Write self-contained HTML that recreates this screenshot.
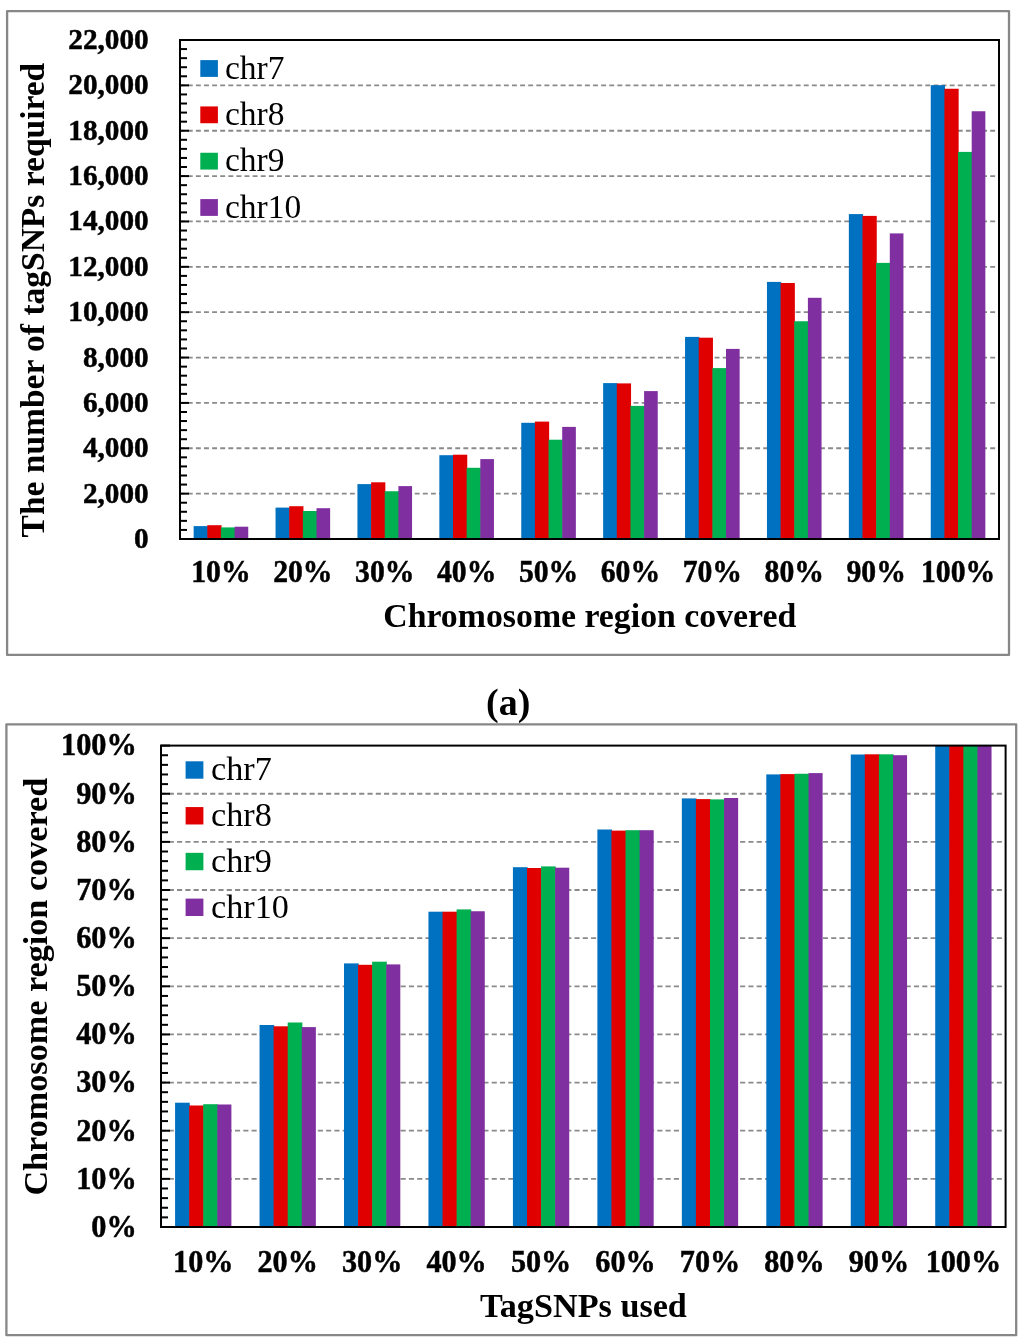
<!DOCTYPE html>
<html><head><meta charset="utf-8"><style>
html,body{margin:0;padding:0;background:#fff;width:1024px;height:1342px;overflow:hidden}
svg{display:block}
.tk{font-family:"Liberation Serif","Times New Roman",serif;font-weight:bold;fill:#000;stroke:#000;stroke-width:0.5px}
.tt{font-family:"Liberation Serif","Times New Roman",serif;font-weight:bold;fill:#000}
.lg{font-family:"Liberation Serif","Times New Roman",serif;font-weight:normal;fill:#000}
</style></head><body>
<svg width="1024" height="1342" viewBox="0 0 1024 1342">
<rect width="1024" height="1342" fill="#fff"/>
<rect x="7.1" y="11.1" width="1001.9" height="643.8" fill="none" stroke="#878787" stroke-width="2.3" stroke-linejoin="round"/>
<line x1="179.7" y1="493.64" x2="999" y2="493.64" stroke="#8a8a8a" stroke-width="1.8" stroke-dasharray="4.9 3.205"/>
<line x1="179.7" y1="448.27" x2="999" y2="448.27" stroke="#8a8a8a" stroke-width="1.8" stroke-dasharray="4.9 3.205"/>
<line x1="179.7" y1="402.91" x2="999" y2="402.91" stroke="#8a8a8a" stroke-width="1.8" stroke-dasharray="4.9 3.205"/>
<line x1="179.7" y1="357.55" x2="999" y2="357.55" stroke="#8a8a8a" stroke-width="1.8" stroke-dasharray="4.9 3.205"/>
<line x1="179.7" y1="312.18" x2="999" y2="312.18" stroke="#8a8a8a" stroke-width="1.8" stroke-dasharray="4.9 3.205"/>
<line x1="179.7" y1="266.82" x2="999" y2="266.82" stroke="#8a8a8a" stroke-width="1.8" stroke-dasharray="4.9 3.205"/>
<line x1="179.7" y1="221.45" x2="999" y2="221.45" stroke="#8a8a8a" stroke-width="1.8" stroke-dasharray="4.9 3.205"/>
<line x1="179.7" y1="176.09" x2="999" y2="176.09" stroke="#8a8a8a" stroke-width="1.8" stroke-dasharray="4.9 3.205"/>
<line x1="179.7" y1="130.73" x2="999" y2="130.73" stroke="#8a8a8a" stroke-width="1.8" stroke-dasharray="4.9 3.205"/>
<line x1="179.7" y1="85.36" x2="999" y2="85.36" stroke="#8a8a8a" stroke-width="1.8" stroke-dasharray="4.9 3.205"/>
<rect x="193.65" y="526.1" width="14.25" height="12.9" fill="#0070C0"/>
<rect x="207.3" y="525.2" width="14.25" height="13.8" fill="#E00000"/>
<rect x="220.95" y="527.4" width="14.25" height="11.6" fill="#00B050"/>
<rect x="234.6" y="526.7" width="13.65" height="12.3" fill="#7F2FA0"/>
<rect x="275.55" y="507.6" width="14.25" height="31.4" fill="#0070C0"/>
<rect x="289.2" y="506.2" width="14.25" height="32.8" fill="#E00000"/>
<rect x="302.85" y="511" width="14.25" height="28" fill="#00B050"/>
<rect x="316.5" y="508.2" width="13.65" height="30.8" fill="#7F2FA0"/>
<rect x="357.45" y="484.1" width="14.25" height="54.9" fill="#0070C0"/>
<rect x="371.1" y="482.3" width="14.25" height="56.7" fill="#E00000"/>
<rect x="384.75" y="491.25" width="14.25" height="47.75" fill="#00B050"/>
<rect x="398.4" y="486.1" width="13.65" height="52.9" fill="#7F2FA0"/>
<rect x="439.35" y="455.2" width="14.25" height="83.8" fill="#0070C0"/>
<rect x="453" y="454.7" width="14.25" height="84.3" fill="#E00000"/>
<rect x="466.65" y="467.8" width="14.25" height="71.2" fill="#00B050"/>
<rect x="480.3" y="459.1" width="13.65" height="79.9" fill="#7F2FA0"/>
<rect x="521.25" y="422.8" width="14.25" height="116.2" fill="#0070C0"/>
<rect x="534.9" y="421.6" width="14.25" height="117.4" fill="#E00000"/>
<rect x="548.55" y="439.7" width="14.25" height="99.3" fill="#00B050"/>
<rect x="562.2" y="426.9" width="13.65" height="112.1" fill="#7F2FA0"/>
<rect x="603.15" y="383.1" width="14.25" height="155.9" fill="#0070C0"/>
<rect x="616.8" y="383.4" width="14.25" height="155.6" fill="#E00000"/>
<rect x="630.45" y="405.9" width="14.25" height="133.1" fill="#00B050"/>
<rect x="644.1" y="391.1" width="13.65" height="147.9" fill="#7F2FA0"/>
<rect x="685.05" y="336.9" width="14.25" height="202.1" fill="#0070C0"/>
<rect x="698.7" y="337.7" width="14.25" height="201.3" fill="#E00000"/>
<rect x="712.35" y="368.1" width="14.25" height="170.9" fill="#00B050"/>
<rect x="726" y="348.9" width="13.65" height="190.1" fill="#7F2FA0"/>
<rect x="766.95" y="281.9" width="14.25" height="257.1" fill="#0070C0"/>
<rect x="780.6" y="283" width="14.25" height="256" fill="#E00000"/>
<rect x="794.25" y="321.25" width="14.25" height="217.75" fill="#00B050"/>
<rect x="807.9" y="297.8" width="13.65" height="241.2" fill="#7F2FA0"/>
<rect x="848.85" y="214.1" width="14.25" height="324.9" fill="#0070C0"/>
<rect x="862.5" y="215.9" width="14.25" height="323.1" fill="#E00000"/>
<rect x="876.15" y="262.9" width="14.25" height="276.1" fill="#00B050"/>
<rect x="889.8" y="233.4" width="13.65" height="305.6" fill="#7F2FA0"/>
<rect x="930.75" y="85.2" width="14.25" height="453.8" fill="#0070C0"/>
<rect x="944.4" y="88.75" width="14.25" height="450.25" fill="#E00000"/>
<rect x="958.05" y="151.9" width="14.25" height="387.1" fill="#00B050"/>
<rect x="971.7" y="111.25" width="13.65" height="427.75" fill="#7F2FA0"/>
<line x1="180" y1="539" x2="189" y2="539" stroke="#000" stroke-width="2"/>
<line x1="180" y1="529.93" x2="187" y2="529.93" stroke="#000" stroke-width="2"/>
<line x1="180" y1="520.85" x2="187" y2="520.85" stroke="#000" stroke-width="2"/>
<line x1="180" y1="511.78" x2="187" y2="511.78" stroke="#000" stroke-width="2"/>
<line x1="180" y1="502.71" x2="187" y2="502.71" stroke="#000" stroke-width="2"/>
<line x1="180" y1="493.64" x2="189" y2="493.64" stroke="#000" stroke-width="2"/>
<line x1="180" y1="484.56" x2="187" y2="484.56" stroke="#000" stroke-width="2"/>
<line x1="180" y1="475.49" x2="187" y2="475.49" stroke="#000" stroke-width="2"/>
<line x1="180" y1="466.42" x2="187" y2="466.42" stroke="#000" stroke-width="2"/>
<line x1="180" y1="457.35" x2="187" y2="457.35" stroke="#000" stroke-width="2"/>
<line x1="180" y1="448.27" x2="189" y2="448.27" stroke="#000" stroke-width="2"/>
<line x1="180" y1="439.2" x2="187" y2="439.2" stroke="#000" stroke-width="2"/>
<line x1="180" y1="430.13" x2="187" y2="430.13" stroke="#000" stroke-width="2"/>
<line x1="180" y1="421.05" x2="187" y2="421.05" stroke="#000" stroke-width="2"/>
<line x1="180" y1="411.98" x2="187" y2="411.98" stroke="#000" stroke-width="2"/>
<line x1="180" y1="402.91" x2="189" y2="402.91" stroke="#000" stroke-width="2"/>
<line x1="180" y1="393.84" x2="187" y2="393.84" stroke="#000" stroke-width="2"/>
<line x1="180" y1="384.76" x2="187" y2="384.76" stroke="#000" stroke-width="2"/>
<line x1="180" y1="375.69" x2="187" y2="375.69" stroke="#000" stroke-width="2"/>
<line x1="180" y1="366.62" x2="187" y2="366.62" stroke="#000" stroke-width="2"/>
<line x1="180" y1="357.55" x2="189" y2="357.55" stroke="#000" stroke-width="2"/>
<line x1="180" y1="348.47" x2="187" y2="348.47" stroke="#000" stroke-width="2"/>
<line x1="180" y1="339.4" x2="187" y2="339.4" stroke="#000" stroke-width="2"/>
<line x1="180" y1="330.33" x2="187" y2="330.33" stroke="#000" stroke-width="2"/>
<line x1="180" y1="321.25" x2="187" y2="321.25" stroke="#000" stroke-width="2"/>
<line x1="180" y1="312.18" x2="189" y2="312.18" stroke="#000" stroke-width="2"/>
<line x1="180" y1="303.11" x2="187" y2="303.11" stroke="#000" stroke-width="2"/>
<line x1="180" y1="294.04" x2="187" y2="294.04" stroke="#000" stroke-width="2"/>
<line x1="180" y1="284.96" x2="187" y2="284.96" stroke="#000" stroke-width="2"/>
<line x1="180" y1="275.89" x2="187" y2="275.89" stroke="#000" stroke-width="2"/>
<line x1="180" y1="266.82" x2="189" y2="266.82" stroke="#000" stroke-width="2"/>
<line x1="180" y1="257.75" x2="187" y2="257.75" stroke="#000" stroke-width="2"/>
<line x1="180" y1="248.67" x2="187" y2="248.67" stroke="#000" stroke-width="2"/>
<line x1="180" y1="239.6" x2="187" y2="239.6" stroke="#000" stroke-width="2"/>
<line x1="180" y1="230.53" x2="187" y2="230.53" stroke="#000" stroke-width="2"/>
<line x1="180" y1="221.45" x2="189" y2="221.45" stroke="#000" stroke-width="2"/>
<line x1="180" y1="212.38" x2="187" y2="212.38" stroke="#000" stroke-width="2"/>
<line x1="180" y1="203.31" x2="187" y2="203.31" stroke="#000" stroke-width="2"/>
<line x1="180" y1="194.24" x2="187" y2="194.24" stroke="#000" stroke-width="2"/>
<line x1="180" y1="185.16" x2="187" y2="185.16" stroke="#000" stroke-width="2"/>
<line x1="180" y1="176.09" x2="189" y2="176.09" stroke="#000" stroke-width="2"/>
<line x1="180" y1="167.02" x2="187" y2="167.02" stroke="#000" stroke-width="2"/>
<line x1="180" y1="157.95" x2="187" y2="157.95" stroke="#000" stroke-width="2"/>
<line x1="180" y1="148.87" x2="187" y2="148.87" stroke="#000" stroke-width="2"/>
<line x1="180" y1="139.8" x2="187" y2="139.8" stroke="#000" stroke-width="2"/>
<line x1="180" y1="130.73" x2="189" y2="130.73" stroke="#000" stroke-width="2"/>
<line x1="180" y1="121.65" x2="187" y2="121.65" stroke="#000" stroke-width="2"/>
<line x1="180" y1="112.58" x2="187" y2="112.58" stroke="#000" stroke-width="2"/>
<line x1="180" y1="103.51" x2="187" y2="103.51" stroke="#000" stroke-width="2"/>
<line x1="180" y1="94.44" x2="187" y2="94.44" stroke="#000" stroke-width="2"/>
<line x1="180" y1="85.36" x2="189" y2="85.36" stroke="#000" stroke-width="2"/>
<line x1="180" y1="76.29" x2="187" y2="76.29" stroke="#000" stroke-width="2"/>
<line x1="180" y1="67.22" x2="187" y2="67.22" stroke="#000" stroke-width="2"/>
<line x1="180" y1="58.15" x2="187" y2="58.15" stroke="#000" stroke-width="2"/>
<line x1="180" y1="49.07" x2="187" y2="49.07" stroke="#000" stroke-width="2"/>
<line x1="180" y1="40" x2="189" y2="40" stroke="#000" stroke-width="2"/>
<rect x="180" y="40" width="819" height="499" fill="none" stroke="#000" stroke-width="2"/>
<text transform="translate(148.7,548) scale(0.965,1)" text-anchor="end" class="tk" style="font-size:30.3px">0</text>
<text transform="translate(148.7,502.64) scale(0.965,1)" text-anchor="end" class="tk" style="font-size:30.3px">2,000</text>
<text transform="translate(148.7,457.27) scale(0.965,1)" text-anchor="end" class="tk" style="font-size:30.3px">4,000</text>
<text transform="translate(148.7,411.91) scale(0.965,1)" text-anchor="end" class="tk" style="font-size:30.3px">6,000</text>
<text transform="translate(148.7,366.55) scale(0.965,1)" text-anchor="end" class="tk" style="font-size:30.3px">8,000</text>
<text transform="translate(148.7,321.18) scale(0.965,1)" text-anchor="end" class="tk" style="font-size:30.3px">10,000</text>
<text transform="translate(148.7,275.82) scale(0.965,1)" text-anchor="end" class="tk" style="font-size:30.3px">12,000</text>
<text transform="translate(148.7,230.45) scale(0.965,1)" text-anchor="end" class="tk" style="font-size:30.3px">14,000</text>
<text transform="translate(148.7,185.09) scale(0.965,1)" text-anchor="end" class="tk" style="font-size:30.3px">16,000</text>
<text transform="translate(148.7,139.73) scale(0.965,1)" text-anchor="end" class="tk" style="font-size:30.3px">18,000</text>
<text transform="translate(148.7,94.36) scale(0.965,1)" text-anchor="end" class="tk" style="font-size:30.3px">20,000</text>
<text transform="translate(148.7,49) scale(0.965,1)" text-anchor="end" class="tk" style="font-size:30.3px">22,000</text>
<text transform="translate(220.95,582.3) scale(0.97,1)" text-anchor="middle" class="tk" style="font-size:30.6px">10%</text>
<text transform="translate(302.85,582.3) scale(0.97,1)" text-anchor="middle" class="tk" style="font-size:30.6px">20%</text>
<text transform="translate(384.75,582.3) scale(0.97,1)" text-anchor="middle" class="tk" style="font-size:30.6px">30%</text>
<text transform="translate(466.65,582.3) scale(0.97,1)" text-anchor="middle" class="tk" style="font-size:30.6px">40%</text>
<text transform="translate(548.55,582.3) scale(0.97,1)" text-anchor="middle" class="tk" style="font-size:30.6px">50%</text>
<text transform="translate(630.45,582.3) scale(0.97,1)" text-anchor="middle" class="tk" style="font-size:30.6px">60%</text>
<text transform="translate(712.35,582.3) scale(0.97,1)" text-anchor="middle" class="tk" style="font-size:30.6px">70%</text>
<text transform="translate(794.25,582.3) scale(0.97,1)" text-anchor="middle" class="tk" style="font-size:30.6px">80%</text>
<text transform="translate(876.15,582.3) scale(0.97,1)" text-anchor="middle" class="tk" style="font-size:30.6px">90%</text>
<text transform="translate(958.05,582.3) scale(0.97,1)" text-anchor="middle" class="tk" style="font-size:30.6px">100%</text>
<text x="589.8" y="626.5" text-anchor="middle" class="tt" style="font-size:33.8px">Chromosome region covered</text>
<text transform="translate(44,300.1) rotate(-90)" text-anchor="middle" class="tt" style="font-size:33.5px">The number of tagSNPs required</text>
<rect x="200.3" y="60.1" width="17.6" height="16.8" fill="#0070C0"/>
<text x="225" y="78.6" class="lg" style="font-size:33.5px">chr7</text>
<rect x="200.3" y="106.43" width="17.6" height="16.8" fill="#E00000"/>
<text x="225" y="124.93" class="lg" style="font-size:33.5px">chr8</text>
<rect x="200.3" y="152.76" width="17.6" height="16.8" fill="#00B050"/>
<text x="225" y="171.26" class="lg" style="font-size:33.5px">chr9</text>
<rect x="200.3" y="199.09" width="17.6" height="16.8" fill="#7F2FA0"/>
<text x="225" y="217.59" class="lg" style="font-size:33.5px">chr10</text>
<text x="508.2" y="715.2" text-anchor="middle" class="tt" style="font-size:38px">(a)</text>
<rect x="6.4" y="724.3" width="1009.8" height="610.9" fill="none" stroke="#878787" stroke-width="2.3" stroke-linejoin="round"/>
<line x1="160.5" y1="1178.86" x2="1005.6" y2="1178.86" stroke="#8a8a8a" stroke-width="1.8" stroke-dasharray="5.1 3.18"/>
<line x1="160.5" y1="1130.72" x2="1005.6" y2="1130.72" stroke="#8a8a8a" stroke-width="1.8" stroke-dasharray="5.1 3.18"/>
<line x1="160.5" y1="1082.58" x2="1005.6" y2="1082.58" stroke="#8a8a8a" stroke-width="1.8" stroke-dasharray="5.1 3.18"/>
<line x1="160.5" y1="1034.44" x2="1005.6" y2="1034.44" stroke="#8a8a8a" stroke-width="1.8" stroke-dasharray="5.1 3.18"/>
<line x1="160.5" y1="986.3" x2="1005.6" y2="986.3" stroke="#8a8a8a" stroke-width="1.8" stroke-dasharray="5.1 3.18"/>
<line x1="160.5" y1="938.16" x2="1005.6" y2="938.16" stroke="#8a8a8a" stroke-width="1.8" stroke-dasharray="5.1 3.18"/>
<line x1="160.5" y1="890.02" x2="1005.6" y2="890.02" stroke="#8a8a8a" stroke-width="1.8" stroke-dasharray="5.1 3.18"/>
<line x1="160.5" y1="841.88" x2="1005.6" y2="841.88" stroke="#8a8a8a" stroke-width="1.8" stroke-dasharray="5.1 3.18"/>
<line x1="160.5" y1="793.74" x2="1005.6" y2="793.74" stroke="#8a8a8a" stroke-width="1.8" stroke-dasharray="5.1 3.18"/>
<rect x="175.08" y="1102.7" width="14.68" height="124.3" fill="#0070C0"/>
<rect x="189.15" y="1105.5" width="14.68" height="121.5" fill="#E00000"/>
<rect x="203.23" y="1104.2" width="14.68" height="122.8" fill="#00B050"/>
<rect x="217.31" y="1104.5" width="14.08" height="122.5" fill="#7F2FA0"/>
<rect x="259.54" y="1025" width="14.68" height="202" fill="#0070C0"/>
<rect x="273.61" y="1026.3" width="14.68" height="200.7" fill="#E00000"/>
<rect x="287.69" y="1022.5" width="14.68" height="204.5" fill="#00B050"/>
<rect x="301.77" y="1027.1" width="14.08" height="199.9" fill="#7F2FA0"/>
<rect x="344" y="963.4" width="14.68" height="263.6" fill="#0070C0"/>
<rect x="358.07" y="964.8" width="14.68" height="262.2" fill="#E00000"/>
<rect x="372.15" y="961.7" width="14.68" height="265.3" fill="#00B050"/>
<rect x="386.23" y="964.4" width="14.08" height="262.6" fill="#7F2FA0"/>
<rect x="428.46" y="911.7" width="14.68" height="315.3" fill="#0070C0"/>
<rect x="442.53" y="911.7" width="14.68" height="315.3" fill="#E00000"/>
<rect x="456.61" y="909.4" width="14.68" height="317.6" fill="#00B050"/>
<rect x="470.69" y="911.25" width="14.08" height="315.75" fill="#7F2FA0"/>
<rect x="512.92" y="867.2" width="14.68" height="359.8" fill="#0070C0"/>
<rect x="526.99" y="868" width="14.68" height="359" fill="#E00000"/>
<rect x="541.07" y="866.4" width="14.68" height="360.6" fill="#00B050"/>
<rect x="555.15" y="867.7" width="14.08" height="359.3" fill="#7F2FA0"/>
<rect x="597.38" y="829.5" width="14.68" height="397.5" fill="#0070C0"/>
<rect x="611.45" y="830.6" width="14.68" height="396.4" fill="#E00000"/>
<rect x="625.53" y="830.2" width="14.68" height="396.8" fill="#00B050"/>
<rect x="639.61" y="830.2" width="14.08" height="396.8" fill="#7F2FA0"/>
<rect x="681.84" y="798.4" width="14.68" height="428.6" fill="#0070C0"/>
<rect x="695.91" y="799.1" width="14.68" height="427.9" fill="#E00000"/>
<rect x="709.99" y="799.4" width="14.68" height="427.6" fill="#00B050"/>
<rect x="724.07" y="798" width="14.08" height="429" fill="#7F2FA0"/>
<rect x="766.3" y="774.4" width="14.68" height="452.6" fill="#0070C0"/>
<rect x="780.37" y="774.1" width="14.68" height="452.9" fill="#E00000"/>
<rect x="794.45" y="773.75" width="14.68" height="453.25" fill="#00B050"/>
<rect x="808.53" y="773.1" width="14.08" height="453.9" fill="#7F2FA0"/>
<rect x="850.76" y="754.5" width="14.68" height="472.5" fill="#0070C0"/>
<rect x="864.83" y="754.3" width="14.68" height="472.7" fill="#E00000"/>
<rect x="878.91" y="754.3" width="14.68" height="472.7" fill="#00B050"/>
<rect x="892.99" y="755.2" width="14.08" height="471.8" fill="#7F2FA0"/>
<rect x="935.22" y="745.6" width="14.68" height="481.4" fill="#0070C0"/>
<rect x="949.29" y="745.6" width="14.68" height="481.4" fill="#E00000"/>
<rect x="963.37" y="745.6" width="14.68" height="481.4" fill="#00B050"/>
<rect x="977.45" y="745.6" width="14.08" height="481.4" fill="#7F2FA0"/>
<line x1="161" y1="1227" x2="170" y2="1227" stroke="#000" stroke-width="2"/>
<line x1="161" y1="1217.37" x2="168" y2="1217.37" stroke="#000" stroke-width="2"/>
<line x1="161" y1="1207.74" x2="168" y2="1207.74" stroke="#000" stroke-width="2"/>
<line x1="161" y1="1198.12" x2="168" y2="1198.12" stroke="#000" stroke-width="2"/>
<line x1="161" y1="1188.49" x2="168" y2="1188.49" stroke="#000" stroke-width="2"/>
<line x1="161" y1="1178.86" x2="170" y2="1178.86" stroke="#000" stroke-width="2"/>
<line x1="161" y1="1169.23" x2="168" y2="1169.23" stroke="#000" stroke-width="2"/>
<line x1="161" y1="1159.6" x2="168" y2="1159.6" stroke="#000" stroke-width="2"/>
<line x1="161" y1="1149.98" x2="168" y2="1149.98" stroke="#000" stroke-width="2"/>
<line x1="161" y1="1140.35" x2="168" y2="1140.35" stroke="#000" stroke-width="2"/>
<line x1="161" y1="1130.72" x2="170" y2="1130.72" stroke="#000" stroke-width="2"/>
<line x1="161" y1="1121.09" x2="168" y2="1121.09" stroke="#000" stroke-width="2"/>
<line x1="161" y1="1111.46" x2="168" y2="1111.46" stroke="#000" stroke-width="2"/>
<line x1="161" y1="1101.84" x2="168" y2="1101.84" stroke="#000" stroke-width="2"/>
<line x1="161" y1="1092.21" x2="168" y2="1092.21" stroke="#000" stroke-width="2"/>
<line x1="161" y1="1082.58" x2="170" y2="1082.58" stroke="#000" stroke-width="2"/>
<line x1="161" y1="1072.95" x2="168" y2="1072.95" stroke="#000" stroke-width="2"/>
<line x1="161" y1="1063.32" x2="168" y2="1063.32" stroke="#000" stroke-width="2"/>
<line x1="161" y1="1053.7" x2="168" y2="1053.7" stroke="#000" stroke-width="2"/>
<line x1="161" y1="1044.07" x2="168" y2="1044.07" stroke="#000" stroke-width="2"/>
<line x1="161" y1="1034.44" x2="170" y2="1034.44" stroke="#000" stroke-width="2"/>
<line x1="161" y1="1024.81" x2="168" y2="1024.81" stroke="#000" stroke-width="2"/>
<line x1="161" y1="1015.18" x2="168" y2="1015.18" stroke="#000" stroke-width="2"/>
<line x1="161" y1="1005.56" x2="168" y2="1005.56" stroke="#000" stroke-width="2"/>
<line x1="161" y1="995.93" x2="168" y2="995.93" stroke="#000" stroke-width="2"/>
<line x1="161" y1="986.3" x2="170" y2="986.3" stroke="#000" stroke-width="2"/>
<line x1="161" y1="976.67" x2="168" y2="976.67" stroke="#000" stroke-width="2"/>
<line x1="161" y1="967.04" x2="168" y2="967.04" stroke="#000" stroke-width="2"/>
<line x1="161" y1="957.42" x2="168" y2="957.42" stroke="#000" stroke-width="2"/>
<line x1="161" y1="947.79" x2="168" y2="947.79" stroke="#000" stroke-width="2"/>
<line x1="161" y1="938.16" x2="170" y2="938.16" stroke="#000" stroke-width="2"/>
<line x1="161" y1="928.53" x2="168" y2="928.53" stroke="#000" stroke-width="2"/>
<line x1="161" y1="918.9" x2="168" y2="918.9" stroke="#000" stroke-width="2"/>
<line x1="161" y1="909.28" x2="168" y2="909.28" stroke="#000" stroke-width="2"/>
<line x1="161" y1="899.65" x2="168" y2="899.65" stroke="#000" stroke-width="2"/>
<line x1="161" y1="890.02" x2="170" y2="890.02" stroke="#000" stroke-width="2"/>
<line x1="161" y1="880.39" x2="168" y2="880.39" stroke="#000" stroke-width="2"/>
<line x1="161" y1="870.76" x2="168" y2="870.76" stroke="#000" stroke-width="2"/>
<line x1="161" y1="861.14" x2="168" y2="861.14" stroke="#000" stroke-width="2"/>
<line x1="161" y1="851.51" x2="168" y2="851.51" stroke="#000" stroke-width="2"/>
<line x1="161" y1="841.88" x2="170" y2="841.88" stroke="#000" stroke-width="2"/>
<line x1="161" y1="832.25" x2="168" y2="832.25" stroke="#000" stroke-width="2"/>
<line x1="161" y1="822.62" x2="168" y2="822.62" stroke="#000" stroke-width="2"/>
<line x1="161" y1="813" x2="168" y2="813" stroke="#000" stroke-width="2"/>
<line x1="161" y1="803.37" x2="168" y2="803.37" stroke="#000" stroke-width="2"/>
<line x1="161" y1="793.74" x2="170" y2="793.74" stroke="#000" stroke-width="2"/>
<line x1="161" y1="784.11" x2="168" y2="784.11" stroke="#000" stroke-width="2"/>
<line x1="161" y1="774.48" x2="168" y2="774.48" stroke="#000" stroke-width="2"/>
<line x1="161" y1="764.86" x2="168" y2="764.86" stroke="#000" stroke-width="2"/>
<line x1="161" y1="755.23" x2="168" y2="755.23" stroke="#000" stroke-width="2"/>
<line x1="161" y1="745.6" x2="170" y2="745.6" stroke="#000" stroke-width="2"/>
<rect x="161" y="745.6" width="844.6" height="481.4" fill="none" stroke="#000" stroke-width="2"/>
<text transform="translate(136.8,1236.8) scale(0.948,1)" text-anchor="end" class="tk" style="font-size:32px">0%</text>
<text transform="translate(136.8,1188.66) scale(0.948,1)" text-anchor="end" class="tk" style="font-size:32px">10%</text>
<text transform="translate(136.8,1140.52) scale(0.948,1)" text-anchor="end" class="tk" style="font-size:32px">20%</text>
<text transform="translate(136.8,1092.38) scale(0.948,1)" text-anchor="end" class="tk" style="font-size:32px">30%</text>
<text transform="translate(136.8,1044.24) scale(0.948,1)" text-anchor="end" class="tk" style="font-size:32px">40%</text>
<text transform="translate(136.8,996.1) scale(0.948,1)" text-anchor="end" class="tk" style="font-size:32px">50%</text>
<text transform="translate(136.8,947.96) scale(0.948,1)" text-anchor="end" class="tk" style="font-size:32px">60%</text>
<text transform="translate(136.8,899.82) scale(0.948,1)" text-anchor="end" class="tk" style="font-size:32px">70%</text>
<text transform="translate(136.8,851.68) scale(0.948,1)" text-anchor="end" class="tk" style="font-size:32px">80%</text>
<text transform="translate(136.8,803.54) scale(0.948,1)" text-anchor="end" class="tk" style="font-size:32px">90%</text>
<text transform="translate(136.8,755.4) scale(0.948,1)" text-anchor="end" class="tk" style="font-size:32px">100%</text>
<text transform="translate(203.23,1271.7) scale(0.955,1)" text-anchor="middle" class="tk" style="font-size:31.6px">10%</text>
<text transform="translate(287.69,1271.7) scale(0.955,1)" text-anchor="middle" class="tk" style="font-size:31.6px">20%</text>
<text transform="translate(372.15,1271.7) scale(0.955,1)" text-anchor="middle" class="tk" style="font-size:31.6px">30%</text>
<text transform="translate(456.61,1271.7) scale(0.955,1)" text-anchor="middle" class="tk" style="font-size:31.6px">40%</text>
<text transform="translate(541.07,1271.7) scale(0.955,1)" text-anchor="middle" class="tk" style="font-size:31.6px">50%</text>
<text transform="translate(625.53,1271.7) scale(0.955,1)" text-anchor="middle" class="tk" style="font-size:31.6px">60%</text>
<text transform="translate(709.99,1271.7) scale(0.955,1)" text-anchor="middle" class="tk" style="font-size:31.6px">70%</text>
<text transform="translate(794.45,1271.7) scale(0.955,1)" text-anchor="middle" class="tk" style="font-size:31.6px">80%</text>
<text transform="translate(878.91,1271.7) scale(0.955,1)" text-anchor="middle" class="tk" style="font-size:31.6px">90%</text>
<text transform="translate(963.37,1271.7) scale(0.955,1)" text-anchor="middle" class="tk" style="font-size:31.6px">100%</text>
<text x="583.5" y="1316.7" text-anchor="middle" class="tt" style="font-size:34.2px">TagSNPs used</text>
<text transform="translate(47.3,986.7) rotate(-90)" text-anchor="middle" class="tt" style="font-size:34.2px">Chromosome region covered</text>
<rect x="185.6" y="761.3" width="17.8" height="17.4" fill="#0070C0"/>
<text x="211" y="780.4" class="lg" style="font-size:34.2px">chr7</text>
<rect x="185.6" y="807.07" width="17.8" height="17.4" fill="#E00000"/>
<text x="211" y="826.17" class="lg" style="font-size:34.2px">chr8</text>
<rect x="185.6" y="852.84" width="17.8" height="17.4" fill="#00B050"/>
<text x="211" y="871.94" class="lg" style="font-size:34.2px">chr9</text>
<rect x="185.6" y="898.61" width="17.8" height="17.4" fill="#7F2FA0"/>
<text x="211" y="917.71" class="lg" style="font-size:34.2px">chr10</text>
</svg>
</body></html>
